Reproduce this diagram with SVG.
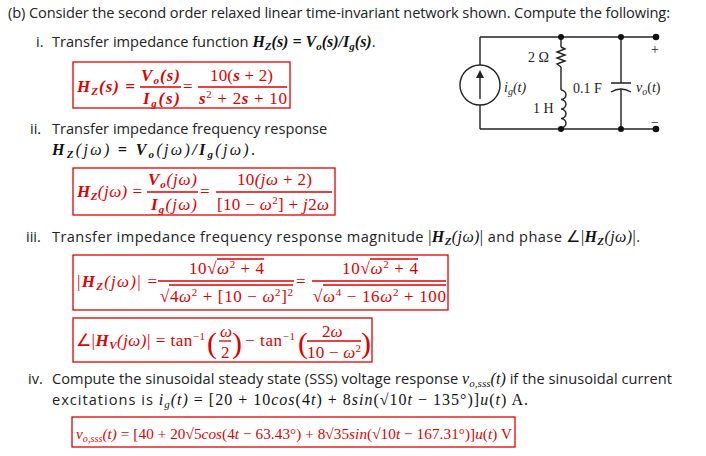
<svg xmlns="http://www.w3.org/2000/svg" width="706" height="456" viewBox="0 0 706 456">
<style>
.t{font-family:"Open Sans","Liberation Sans",sans-serif;font-size:14.6px;fill:#222}
.m{font-family:"Liberation Serif",serif;font-size:16px;fill:#111}
.r{font-family:"Liberation Serif",serif;font-size:17px;fill:#e00000}
.r.p{font-size:30px}
.r.s{font-size:15.2px}
.b{font-weight:bold;font-style:italic}
.i{font-style:italic}
.box{fill:none;stroke:#e00000;stroke-width:1.3}
.bar{stroke:#e00000;stroke-width:1.3}
.w{fill:none;stroke:#222;stroke-width:1.4}
.c{font-family:"Liberation Serif",serif;font-size:14px;fill:#222}
</style>
<rect width="706" height="456" fill="#fff"/>
<text class="t" x="8" y="18" textLength="662">(b) Consider the second order relaxed linear time-invariant network shown.  Compute the following:</text>
<text class="t" x="36" y="47">i.</text>
<text class="t" x="52" y="47">Transfer impedance function <tspan class="m b">H<tspan font-size="11" dy="3">Z</tspan><tspan dy="-3">(s) = V</tspan><tspan font-size="11" dy="3">o</tspan><tspan dy="-3">(s)/I</tspan><tspan font-size="11" dy="3">g</tspan><tspan dy="-3">(s)</tspan></tspan>.</text>
<g id="box1">
<rect class="box" x="73" y="62" width="217" height="46"/>
<text class="r b" x="77" y="92" textLength="58">H<tspan font-size="11" dy="3">Z</tspan><tspan dy="-3">(s) =</tspan></text>
<text class="r b" x="141" y="81" textLength="39">V<tspan font-size="11" dy="3">o</tspan><tspan dy="-3">(s)</tspan></text>
<line class="bar" x1="140" y1="87" x2="181" y2="87"/>
<text class="r b" x="143" y="104" textLength="37">I<tspan font-size="11" dy="3">g</tspan><tspan dy="-3">(s)</tspan></text>
<text class="r" x="183" y="92">=</text>
<text class="r" x="210" y="81" textLength="63">10(<tspan class="b">s</tspan> + 2)</text>
<line class="bar" x1="198" y1="87" x2="287" y2="87"/>
<text class="r" x="199" y="104" textLength="88"><tspan class="b">s</tspan><tspan font-size="11" dy="-6">2</tspan><tspan dy="6"> + 2</tspan><tspan class="b">s</tspan> + 10</text>
</g>
<text class="t" x="30" y="134">ii.</text>
<text class="t" x="52" y="134">Transfer impedance frequency response</text>
<text class="m" x="52" y="155" textLength="203"><tspan class="b">H</tspan><tspan class="b" font-size="11" dy="3">Z</tspan><tspan dy="-3" class="i">(jω)</tspan><tspan class="b"> = V</tspan><tspan class="b" font-size="11" dy="3">o</tspan><tspan dy="-3" class="i">(jω)</tspan><tspan class="b">/I</tspan><tspan class="b" font-size="11" dy="3">g</tspan><tspan dy="-3" class="i">(jω)</tspan>.</text>
<g id="box2">
<rect class="box" x="73" y="168" width="262" height="47"/>
<text class="r" x="77" y="197" textLength="65"><tspan class="b">H</tspan><tspan class="b" font-size="11" dy="3">Z</tspan><tspan dy="-3" class="i">(jω)</tspan> =</text>
<text class="r" x="148" y="185" textLength="49"><tspan class="b">V</tspan><tspan class="b" font-size="11" dy="3">o</tspan><tspan dy="-3" class="i">(jω)</tspan></text>
<line class="bar" x1="147" y1="192" x2="198" y2="192"/>
<text class="r" x="151" y="210" textLength="46"><tspan class="b">I</tspan><tspan class="b" font-size="11" dy="3">g</tspan><tspan dy="-3" class="i">(jω)</tspan></text>
<text class="r" x="200" y="197">=</text>
<text class="r" x="237" y="185" textLength="75">10<tspan class="i">(jω</tspan> + 2)</text>
<line class="bar" x1="216" y1="192" x2="332" y2="192"/>
<text class="r" x="217" y="210" textLength="112">[10 − <tspan class="i">ω</tspan><tspan font-size="11" dy="-6">2</tspan><tspan dy="6">] + </tspan><tspan class="i">j</tspan>2<tspan class="i">ω</tspan></text>
</g>
<text class="t" x="26" y="242">iii.</text>
<text class="t" x="52" y="242" textLength="588">Transfer impedance frequency response magnitude <tspan class="m">|<tspan class="b">H</tspan><tspan class="b" font-size="11" dy="3">Z</tspan><tspan dy="-3" class="i">(jω)</tspan>|</tspan> and phase <tspan class="m">∠|<tspan class="b">H</tspan><tspan class="b" font-size="11" dy="3">Z</tspan><tspan dy="-3" class="i">(jω)</tspan>|</tspan>.</text>
<g id="box3">
<rect class="box" x="73" y="255" width="375" height="55"/>
<text class="r" x="77" y="287" textLength="80">|<tspan class="b">H</tspan><tspan class="b" font-size="11" dy="3">Z</tspan><tspan dy="-3" class="i">(jω)</tspan>| =</text>
<text class="r" x="189" y="274" textLength="75">10√<tspan class="i">ω</tspan><tspan font-size="11" dy="-6">2</tspan><tspan dy="6"> + 4</tspan></text>
<line class="bar" x1="217" y1="259" x2="264" y2="259"/>
<line class="bar" x1="158" y1="281" x2="294" y2="281"/>
<text class="r" x="160" y="302" textLength="133">√4<tspan class="i">ω</tspan><tspan font-size="11" dy="-6">2</tspan><tspan dy="6"> + [10 − </tspan><tspan class="i">ω</tspan><tspan font-size="11" dy="-6">2</tspan><tspan dy="6">]</tspan><tspan font-size="11" dy="-6">2</tspan></text>
<line class="bar" x1="169" y1="285" x2="293" y2="285"/>
<text class="r" x="296" y="287">=</text>
<text class="r" x="342" y="274" textLength="76">10√<tspan class="i">ω</tspan><tspan font-size="11" dy="-6">2</tspan><tspan dy="6"> + 4</tspan></text>
<line class="bar" x1="370" y1="259" x2="418" y2="259"/>
<line class="bar" x1="312" y1="281" x2="446" y2="281"/>
<text class="r" x="313" y="302" textLength="133">√<tspan class="i">ω</tspan><tspan font-size="11" dy="-6">4</tspan><tspan dy="6"> − 16</tspan><tspan class="i">ω</tspan><tspan font-size="11" dy="-6">2</tspan><tspan dy="6"> + 100</tspan></text>
<line class="bar" x1="323" y1="285" x2="446" y2="285"/>
</g>
<g id="box4">
<rect class="box" x="73" y="318" width="299" height="44"/>
<text class="r" x="76" y="346" textLength="129">∠|<tspan class="b">H</tspan><tspan class="b" font-size="11" dy="3">V</tspan><tspan dy="-3" class="i">(jω)</tspan>| = tan<tspan font-size="11" dy="-6">−1</tspan></text>
<text class="r p" x="207" y="353">(</text>
<text class="r i" x="220" y="337">ω</text>
<line class="bar" x1="219" y1="341" x2="231" y2="341"/>
<text class="r" x="221" y="358">2</text>
<text class="r p" x="232" y="353">)</text>
<text class="r" x="245" y="346" textLength="50">− tan<tspan font-size="11" dy="-6">−1</tspan></text>
<text class="r p" x="298" y="353">(</text>
<text class="r" x="322" y="337">2<tspan class="i">ω</tspan></text>
<line class="bar" x1="307" y1="341" x2="361" y2="341"/>
<text class="r" x="307" y="358" textLength="54">10 − <tspan class="i">ω</tspan><tspan font-size="11" dy="-6">2</tspan></text>
<text class="r p" x="361" y="353">)</text>
</g>
<text class="t" x="28" y="384">iv.</text>
<text class="t" x="52" y="384" textLength="620">Compute the sinusoidal steady state (SSS) voltage response <tspan class="m i">v<tspan font-size="11" dy="3">o,sss</tspan><tspan dy="-3">(t)</tspan></tspan> if the sinusoidal current</text>
<text class="t" x="52" y="405" textLength="476">excitations is <tspan class="m"><tspan class="i">i</tspan><tspan class="i" font-size="11" dy="3">g</tspan><tspan dy="-3" class="i">(t)</tspan> = [20 + 10<tspan class="i">cos</tspan>(4<tspan class="i">t</tspan>) + 8<tspan class="i">sin</tspan>(√10<tspan class="i">t</tspan> − 135°)]<tspan class="i">u</tspan>(<tspan class="i">t</tspan>) A.</tspan></text>
<g id="box5">
<rect class="box" x="72" y="417" width="443" height="30"/>
<text class="r s" x="76" y="439" textLength="436"><tspan class="i">v</tspan><tspan class="i" font-size="10" dy="3">o,sss</tspan><tspan dy="-3" class="i">(t)</tspan> = [40 + 20√5<tspan class="i">cos</tspan>(4<tspan class="i">t</tspan> − 63.43°) + 8√35<tspan class="i">sin</tspan>(√10<tspan class="i">t</tspan> − 167.31°)]<tspan class="i">u</tspan>(<tspan class="i">t</tspan>) V</text>
</g>
<g id="circuit">
<path class="w" d="M480 37H656M480 129H656M480 37V65M480 105V129M561 37V47M561 67V90M561 128V129M621 37V83M621 89V129"/>
<path class="w" d="M561 47l4 2-8 3 8 3-8 3 8 3-8 3 4 3"/>
<path class="w" d="M561 90a5 4.75 0 0 1 0 9.5a5 4.75 0 0 1 0 9.5a5 4.75 0 0 1 0 9.5a5 4.75 0 0 1 0 9.5"/>
<path class="w" d="M611 83H631M611 92Q621 86 631 92"/>
<circle class="w" cx="480" cy="85" r="20"/>
<path class="w" d="M480 99V74"/>
<path d="M480 70l-4 8h8z" fill="#222"/>
<circle cx="561" cy="37" r="3" fill="#111"/><circle cx="621" cy="37" r="3" fill="#111"/><circle cx="656" cy="37" r="3.3" fill="#111"/>
<circle cx="561" cy="129" r="3" fill="#111"/><circle cx="621" cy="129" r="3" fill="#111"/><circle cx="656" cy="129" r="3.3" fill="#111"/>
<text class="c" x="528" y="62">2 Ω</text>
<text class="c" x="533" y="113">1 H</text>
<text class="c" x="573" y="93">0.1 F</text>
<text class="c i" x="504" y="92">i<tspan font-size="10" dy="3">g</tspan><tspan dy="-3">(t)</tspan></text>
<text class="c" x="636" y="92"><tspan class="i">v</tspan><tspan font-size="10" dy="3" class="i">o</tspan><tspan dy="-3">(</tspan><tspan class="i">t</tspan>)</text>
<text class="c" x="651" y="54" fill="#888">+</text>
<text class="c" x="651" y="127" fill="#888">−</text>
</g>
</svg>
